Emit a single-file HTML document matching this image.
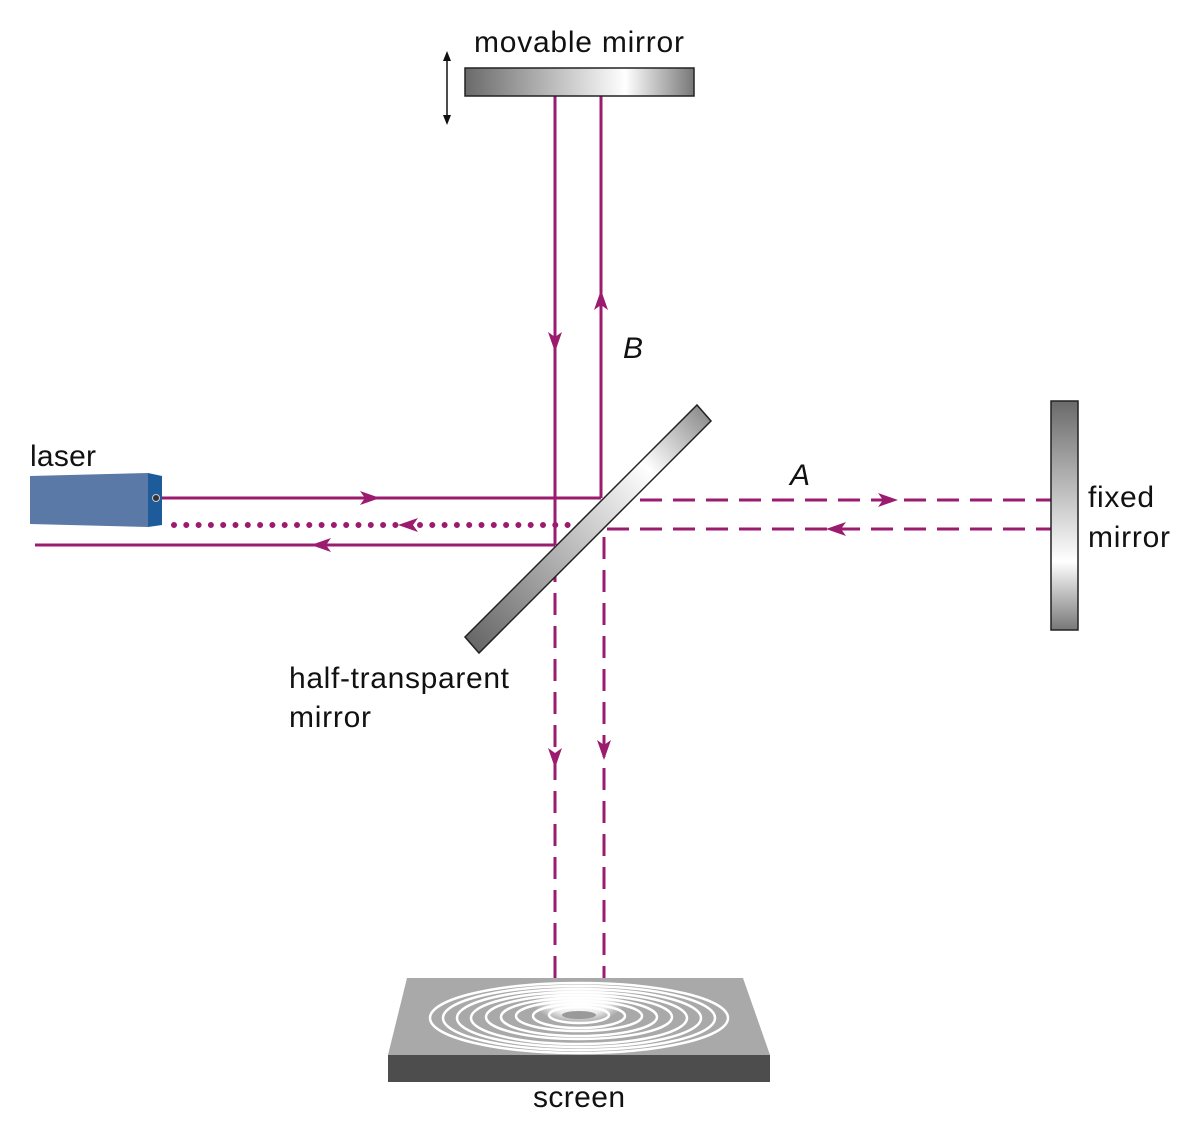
<!DOCTYPE html>
<html><head><meta charset="utf-8"><style>body{margin:0;background:#fff}svg{display:block}text{font-family:"Liberation Sans",sans-serif;fill:#111}</style></head><body>
<svg width="1200" height="1135" viewBox="0 0 1200 1135">
<defs>
<linearGradient id="mm" x1="0" x2="1"><stop offset="0" stop-color="#6a6a6a"/><stop offset="0.7" stop-color="#fff"/><stop offset="1" stop-color="#777"/></linearGradient>
<linearGradient id="fm" x1="0" y1="0" x2="0" y2="1"><stop offset="0" stop-color="#6a6a6a"/><stop offset="0.7" stop-color="#fff"/><stop offset="1" stop-color="#777"/></linearGradient>
<linearGradient id="hm" x1="465" y1="640" x2="711" y2="413" gradientUnits="userSpaceOnUse"><stop offset="0" stop-color="#666"/><stop offset="0.75" stop-color="#fff"/><stop offset="1" stop-color="#888"/></linearGradient>
<radialGradient id="glow" cx="0.5" cy="0.5" r="0.5"><stop offset="0" stop-color="#fff"/><stop offset="0.6" stop-color="#fff" stop-opacity="0.8"/><stop offset="1" stop-color="#fff" stop-opacity="0"/></radialGradient>
</defs>
<g stroke="#9b1b6e" stroke-width="3" fill="none">
<line x1="555" y1="96" x2="555" y2="545"/>
<line x1="601" y1="96" x2="601" y2="498"/>
<line x1="162" y1="498" x2="601" y2="498"/>
<line x1="35" y1="545" x2="555" y2="545"/>
<line x1="174" y1="525" x2="580" y2="525" stroke-width="6" stroke-linecap="round" stroke-dasharray="0 12.3"/>
<line x1="640" y1="500" x2="1051" y2="500" stroke-dasharray="22 11"/>
<line x1="607" y1="529" x2="1051" y2="529" stroke-dasharray="22 11"/>
<line x1="555" y1="560" x2="555" y2="990" stroke-dasharray="22 11"/>
<line x1="604" y1="537" x2="604" y2="985" stroke-dasharray="22 11"/>
</g>
<g fill="#9b1b6e">
<path d="M555 352 l-7 -20 l7 5 l7 -5z"/>
<path d="M601 290 l-7 20 l7 -5 l7 5z"/>
<path d="M380 498 l-20 -7 l5 7 l-5 7z"/>
<path d="M398 525 l20 -7 l-5 7 l5 7z"/>
<path d="M311 545 l20 -7 l-5 7 l5 7z"/>
<path d="M898 500 l-20 -7 l5 7 l-5 7z"/>
<path d="M826 529 l20 -7 l-5 7 l5 7z"/>
<path d="M555 768 l-7 -20 l7 5 l7 -5z"/>
<path d="M604 760 l-7 -20 l7 5 l7 -5z"/>
</g>
<rect x="465" y="68" width="229" height="28" fill="url(#mm)" stroke="#222" stroke-width="1.5"/>
<rect x="1051" y="401" width="27" height="229" fill="url(#fm)" stroke="#222" stroke-width="1.5"/>
<polygon points="697,405 711,421 479,653 465,637" fill="url(#hm)" stroke="#222" stroke-width="1.5"/>
<g stroke="#111" stroke-width="1.5" fill="#111"><line x1="447" y1="58" x2="447" y2="118"/><path d="M447 51 l-4 10 h8z M447 125 l-4 -10 h8z" stroke="none"/></g>
<polygon points="30,476 148,473 148,527 30,524" fill="#5b79a6"/>
<polygon points="148,473 162,476 162,525 148,527" fill="#1e5b9a"/>
<circle cx="156" cy="498" r="3.5" fill="#333" stroke="#ccc" stroke-width="1"/>
<polygon points="407,978 743,978 770,1055 388,1055" fill="#a9a9a9"/>
<rect x="388" y="1055" width="382" height="27" fill="#4d4d4d"/>
<g fill="none" stroke="#fff" stroke-width="2.5">
<ellipse cx="579" cy="1018" rx="149" ry="35"/>
<ellipse cx="579" cy="1018" rx="136" ry="32"/>
<ellipse cx="579" cy="1018" rx="122" ry="29"/>
<ellipse cx="579" cy="1018" rx="108" ry="26"/>
<ellipse cx="579" cy="1017" rx="93" ry="22"/>
<ellipse cx="579" cy="1017" rx="78" ry="19"/>
<ellipse cx="579" cy="1016" rx="63" ry="15"/>
<ellipse cx="579" cy="1016" rx="46" ry="12"/>
<ellipse cx="579" cy="1015" rx="30" ry="8"/>
</g>
<ellipse cx="579" cy="1003" rx="45" ry="20" fill="url(#glow)"/>
<ellipse cx="579" cy="1015" rx="17" ry="4" fill="#9a9a9a"/>
<g font-size="30">
<text x="579" y="52" text-anchor="middle" textLength="210">movable mirror</text>
<text x="30" y="466" textLength="66">laser</text>
<text x="623" y="358" font-style="italic">B</text>
<text x="790" y="485" font-style="italic">A</text>
<text x="1088" y="507" textLength="66">fixed</text>
<text x="1088" y="547" textLength="82">mirror</text>
<text x="289" y="688" textLength="220">half-transparent</text>
<text x="289" y="727" textLength="82">mirror</text>
<text x="579" y="1107" text-anchor="middle" textLength="92">screen</text>
</g>
</svg>
</body></html>
